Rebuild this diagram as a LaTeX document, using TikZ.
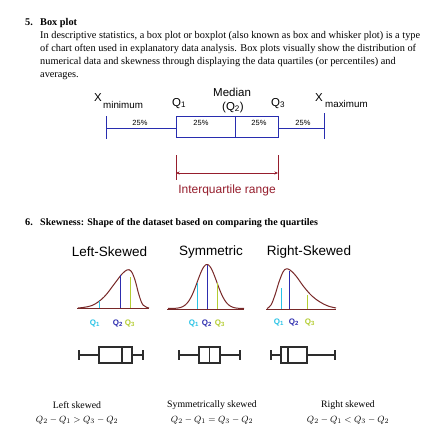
\documentclass[tikz,border=0pt]{standalone}
\usepackage{fontspec}
\setmainfont{Liberation Serif}
\newfontfamily\arial{Liberation Sans}
\usetikzlibrary{arrows.meta}
\definecolor{bpblue}{RGB}{40,45,175}
\definecolor{iqrred}{RGB}{150,30,45}
\definecolor{curvec}{RGB}{120,40,40}
\definecolor{qone}{RGB}{40,195,230}
\definecolor{qtwo}{RGB}{45,45,175}
\definecolor{qthree}{RGB}{180,205,50}
\definecolor{bxgray}{RGB}{45,45,45}
\begin{document}
\begin{tikzpicture}[x=1pt,y=-1pt,
  body/.style={anchor=base west, inner sep=0pt, font=\fontsize{10.3}{12}\selectfont},
  bodyb/.style={body, font=\fontsize{10.3}{12}\selectfont\bfseries},
  lab/.style={anchor=base west, inner sep=0pt, font=\arial\fontsize{11.5}{12}\selectfont},
  labs/.style={anchor=base west, inner sep=0pt, font=\arial\fontsize{9.8}{12}\selectfont},
  pct/.style={inner sep=0pt, font=\arial\fontsize{7.5}{9}\selectfont},
  bpline/.style={draw=bpblue, line width=1pt},
  iqr/.style={draw=iqrred, line width=0.9pt},
  ttl/.style={inner sep=0pt, font=\arial\fontsize{13.5}{15}\selectfont},
  curve/.style={draw=curvec, line width=1pt},
  qlab/.style={inner sep=0pt, font=\arial\bfseries\fontsize{8}{9}\selectfont},
  bx/.style={draw=bxgray, line width=1.2pt},
  foot/.style={inner sep=0pt, font=\fontsize{9.8}{12}\selectfont},
  form/.style={inner sep=0pt, font=\fontsize{9.3}{12}\selectfont}]
\useasboundingbox (0,0) rectangle (442,434);
\fill[white] (0,0) rectangle (442,434);

% ---- section 5 text
\node[bodyb] (n5) at (25,25) {5.};
\node[bodyb] (t5) at (40,25) {Box plot};
\node[body] (l1) at (40,38.5) {In descriptive statistics, a box plot or boxplot (also known as box and whisker plot) is a type};
\node[body] (l2) at (40,51.5) {of chart often used in explanatory data analysis. Box plots visually show the distribution of};
\node[body] (l3) at (40,64.5) {numerical data and skewness through displaying the data quartiles (or percentiles) and};
\node[body] (l4) at (40,77.5) {averages.};

% ---- box plot labels
\node[lab] (xmin) at (94,101) {X};
\node[labs] (minl) at (103,108) {minimum};
\node[lab] (q1l) at (172,106) {Q\textsubscript{1}};
\node[lab] (medl) at (213,96) {Median};
\node[lab] (q2l) at (222,110) {(Q\textsubscript{2})};
\node[lab] (q3l) at (271,106) {Q\textsubscript{3}};
\node[lab] (xmax) at (315,101) {X};
\node[labs] (maxl) at (325,107) {maximum};

% ---- box plot
\coordinate (wl) at (106,128);
\coordinate (wr) at (324,128);
\draw[bpline] (106,116) -- (106,139);
\draw[bpline] (324,113) -- (324,139);
\draw[bpline] (wl) -- (176,128);
\draw[bpline] (278,128) -- (wr);
\draw[bpline] (176,116) rectangle (278,137);
\draw[bpline] (235,116) -- (235,137);
\node[pct] (p1) at (140,123) {25\%};
\node[pct] (p2) at (201,123) {25\%};
\node[pct] (p3) at (259,123) {25\%};
\node[pct] (p4) at (303,123) {25\%};

% ---- interquartile range
\coordinate (ia) at (176,173);
\coordinate (ib) at (278,173);
\draw[iqr] (176,155) -- (176,180);
\draw[iqr] (278,155) -- (278,180);
\draw[iqr, {Stealth[length=3.5pt,width=3pt]}-{Stealth[length=3.5pt,width=3pt]}] (ia) -- (ib);
\node[inner sep=0pt, text=iqrred, font=\arial\fontsize{12}{14}\selectfont] (iqrl) at (227,190) {Interquartile range};

% ---- section 6
\node[bodyb] (n6) at (25,225) {6.};
\node[bodyb, font=\fontsize{10}{12}\selectfont\bfseries] (t6) at (40,225) {Skewness: Shape of the dataset based on comparing the quartiles};

\node[ttl] (tl) at (109.5,252) {Left-Skewed};
\node[ttl] (ts) at (211,252) {Symmetric};
\node[ttl] (tr) at (309,252) {Right-Skewed};

% left skewed curve
\draw[curve] (77,308.5) -- (149,308.5);
\draw[curve] plot[smooth, tension=0.6] coordinates {(78,308) (92,305.5) (104,297) (115,283) (122,274) (127,270) (131,271) (135,280) (139,295) (143,305) (149,308)};
\draw[qone, line width=0.9pt] (99,308) -- (99,301);
\draw[qtwo, line width=0.9pt] (120,308) -- (120,275);
\draw[qthree, line width=0.9pt] (130,308) -- (130,277);

% symmetric curve
\draw[curve] (167,309) -- (244,309);
\draw[curve] plot[domain=168:244, samples=70, smooth] (\x, {308.5-44*exp(-((\x-207)^2)/188)});
\draw[qone, line width=0.9pt] (197,309) -- (197,283);
\draw[qtwo, line width=0.9pt] (207,309) -- (207,265);
\draw[qthree, line width=0.9pt] (217,309) -- (217,283);

% right skewed curve
\draw[curve] (266,309) -- (336,309);
\draw[curve] plot[smooth, tension=0.6] coordinates {(267,308.5) (271,305) (275,295) (279,282) (283,272) (286,269) (290,270) (296,276) (304,287) (312,296) (320,302) (328,306) (336,308)};
\draw[qone, line width=0.9pt] (281,309) -- (281,288);
\draw[qtwo, line width=0.9pt] (289,309) -- (289,271);
\draw[qthree, line width=0.9pt] (307,309) -- (307,295);

% Q labels
\node[qlab, text=qone] (a1) at (95,323) {Q\textsubscript{1}};
\node[qlab, text=qtwo] (a2) at (118,323) {Q\textsubscript{2}};
\node[qlab, text=qthree] (a3) at (130,323) {Q\textsubscript{3}};
\node[qlab, text=qone] (b1) at (194,323) {Q\textsubscript{1}};
\node[qlab, text=qtwo] (b2) at (207,323) {Q\textsubscript{2}};
\node[qlab, text=qthree] (b3) at (220,323) {Q\textsubscript{3}};
\node[qlab, text=qone] (c1) at (279,322) {Q\textsubscript{1}};
\node[qlab, text=qtwo] (c2) at (294,322) {Q\textsubscript{2}};
\node[qlab, text=qthree] (c3) at (310,322) {Q\textsubscript{3}};

% box plots
\draw[bx] (79,350) -- (79,360);
\draw[bx] (79,355) -- (99,355);
\draw[bx] (99,347) rectangle (132,363);
\draw[bx] (122,347) -- (122,363);
\draw[bx] (132,355) -- (143,355);
\draw[bx] (143,350) -- (143,360);

\draw[bx] (179,350) -- (179,360);
\draw[bx] (179,355) -- (199,355);
\draw[bx] (199,347) rectangle (220,363);
\draw[bx] (209.5,347) -- (209.5,363);
\draw[bx] (220,355) -- (240,355);
\draw[bx] (240,350) -- (240,360);

\draw[bx] (271,350) -- (271,360);
\draw[bx] (271,355) -- (281,355);
\draw[bx] (281,347) rectangle (307,363);
\draw[bx] (288,347) -- (288,363);
\draw[bx] (307,355) -- (335,355);
\draw[bx] (335,350) -- (335,360);

% footers
\node[foot] (f1) at (77,405) {Left skewed};
\node[form] (g1) at (77,420) {$Q_2-Q_1>Q_3-Q_2$};
\node[foot] (f2) at (212,405) {Symmetrically skewed};
\node[form] (g2) at (212,420) {$Q_2-Q_1=Q_3-Q_2$};
\node[foot] (f3) at (348,405) {Right skewed};
\node[form] (g3) at (348,420) {$Q_2-Q_1<Q_3-Q_2$};
\end{tikzpicture}
\end{document}
